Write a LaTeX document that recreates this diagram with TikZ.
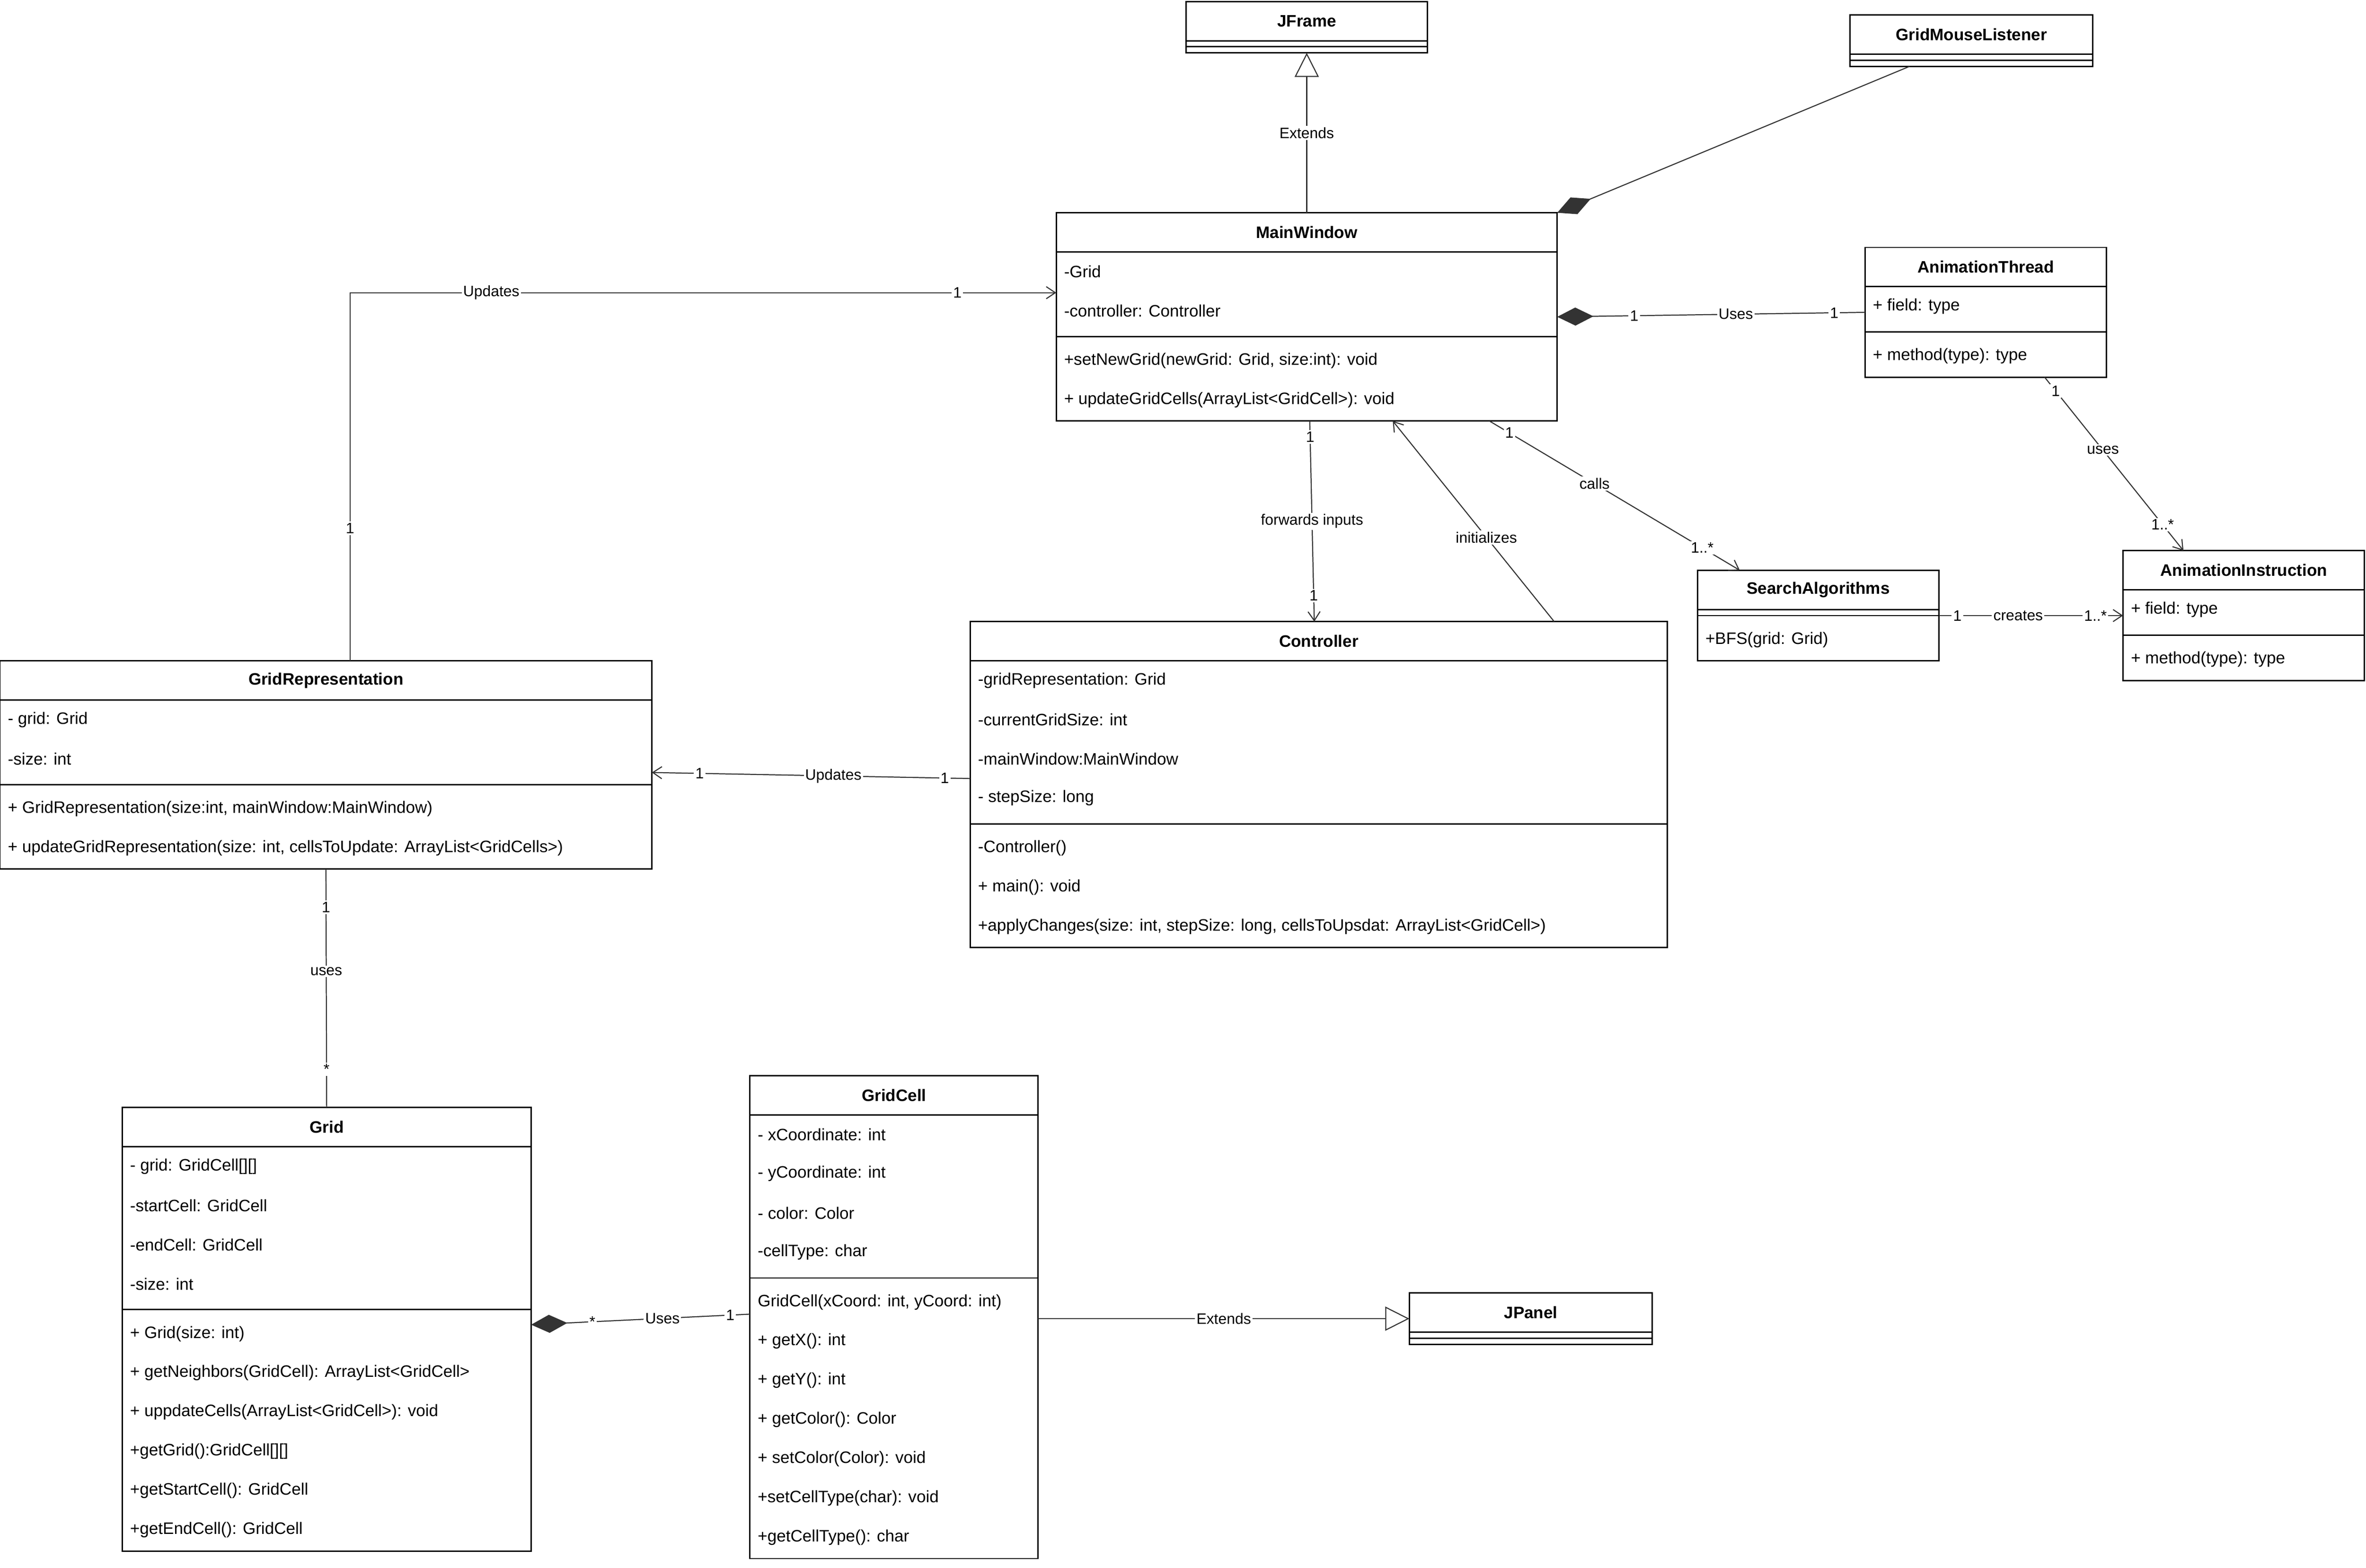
\documentclass[tikz,border=0pt]{standalone}
\usepackage{fontspec}
\setmainfont{Liberation Sans}
\usetikzlibrary{arrows.meta,positioning}

\tikzset{
  classbox/.style={draw, line width=0.9pt, inner sep=0pt, outer sep=0pt},
  row/.style={anchor=west, inner sep=0pt, font=\fontsize{11}{13}\selectfont},
  title/.style={inner sep=0pt, font=\fontsize{11}{13}\selectfont\bfseries},
  lbl/.style={fill=white, inner sep=1pt, font=\fontsize{10}{12}\selectfont},
  conn/.style={draw=black!80, line width=0.7pt},
  openarrow/.style={-{Straight Barb[length=6pt,width=8pt]}},
  extends/.style={-{Triangle[open,length=16pt,width=16pt]}},
  composed/.style={-{Diamond[length=24pt,width=12pt]}},
}

% #1 name, #2 x, #3 top, #4 width, #5 title, #6 no. of attrs, #7 attrs, #8 no. of methods, #9 methods
\newcommand{\umlclass}[9]{%
  \pgfmathsetmacro\ya{#3+26}%
  \pgfmathsetmacro\yb{\ya+#6*26+4}%
  \pgfmathsetmacro\yc{\yb+#8*26+4}%
  \node[classbox, minimum width=#4pt, minimum height={(\yc-#3)*1pt}, anchor=north west] (#1) at (#2,#3) {};
  \node[title] at ({#2+#4/2},{#3+13}) {#5};
  \draw[line width=0.9pt] (#2,\ya) -- ++(#4,0);
  \draw[line width=0.9pt] (#2,\yb) -- ++(#4,0);
  \foreach \t [count=\i] in {#7} \node[row] at ({#2+5},{\ya+13+(\i-1)*26}) {\t};
  \foreach \t [count=\i] in {#9} \node[row] at ({#2+5},{\yb+16+(\i-1)*26}) {\t};
}

\begin{document}
\begin{tikzpicture}[x=1pt,y=-1pt]
\useasboundingbox (0,0) rectangle (1568,1039);

% classes
\umlclass{jframe}{786}{1}{160}{JFrame}{0}{}{0}{}
\umlclass{mouselistener}{1226}{10}{161}{GridMouseListener}{0}{}{0}{}
\umlclass{mainwindow}{700}{141}{332}{MainWindow}{2}{{-Grid},{-controller: Controller}}{2}{{+setNewGrid(newGrid: Grid, size:int): void},{+ updateGridCells(ArrayList<GridCell>): void}}
\umlclass{animthread}{1236}{164}{160}{AnimationThread}{1}{{+ field: type}}{1}{{+ method(type): type}}
\umlclass{search}{1125}{378}{160}{SearchAlgorithms}{0}{}{1}{{+BFS(grid: Grid)}}
\umlclass{animinstr}{1407}{365}{160}{AnimationInstruction}{1}{{+ field: type}}{1}{{+ method(type): type}}
\umlclass{controller}{643}{412}{462}{Controller}{4}{{-gridRepresentation: Grid},{-currentGridSize: int},{-mainWindow:MainWindow},{- stepSize: long}}{3}{{-Controller()},{+ main(): void},{+applyChanges(size: int, stepSize: long, cellsToUpsdat: ArrayList<GridCell>)}}
\umlclass{gridrep}{0}{438}{432}{GridRepresentation}{2}{{- grid: Grid},{-size: int}}{2}{{+ GridRepresentation(size:int, mainWindow:MainWindow)},{+ updateGridRepresentation(size: int, cellsToUpdate: ArrayList<GridCells>)}}
\umlclass{grid}{81}{734}{271}{Grid}{4}{{- grid: GridCell[][]},{-startCell: GridCell},{-endCell: GridCell},{-size: int}}{6}{{+ Grid(size: int)},{+ getNeighbors(GridCell): ArrayList<GridCell>},{+ uppdateCells(ArrayList<GridCell>): void},{+getGrid():GridCell[][]},{+getStartCell(): GridCell},{+getEndCell(): GridCell}}
\umlclass{gridcell}{497}{713}{191}{GridCell}{4}{{- xCoordinate: int},{- yCoordinate: int},{- color: Color},{-cellType: char}}{7}{{GridCell(xCoord: int, yCoord: int)},{+ getX(): int},{+ getY(): int},{+ getColor(): Color},{+ setColor(Color): void},{+setCellType(char): void},{+getCellType(): char}}
\umlclass{jpanel}{934}{857}{161}{JPanel}{0}{}{0}{}

% connectors
\draw[conn, extends] (mainwindow.north) -- node[lbl, pos=0.5] {Extends} (jframe.south);
\draw[conn, composed] ([xshift=-41]mouselistener.south) -- (mainwindow.north east);
\draw[conn, composed] (animthread.west) -- node[lbl, pos=0.42] {Uses}
  node[lbl, pos=0.1] {1} node[lbl, pos=0.75] {1} (mainwindow.east);
\draw[conn, openarrow] ([xshift=16]gridrep.north) |- ([yshift=16]mainwindow.west)
  node[lbl, pos=0.18] {1} node[lbl, pos=0.6] {Updates} node[lbl, pos=0.93] {1};
\draw[conn, openarrow] ([xshift=2]mainwindow.south) -- node[lbl] {forwards inputs}
  node[lbl, pos=0.08] {1} node[lbl, pos=0.87] {1} ([xshift=-3]controller.north);
\draw[conn, openarrow] ([xshift=156]controller.north) -- node[lbl, pos=0.42] {initializes} ([xshift=57]mainwindow.south);
\draw[conn, openarrow] ([xshift=121]mainwindow.south) -- node[lbl, pos=0.42] {calls}
  node[lbl, pos=0.08] {1} node[lbl, pos=0.85] {1..*} ([xshift=-52]search.north);
\draw[conn, openarrow] ([xshift=39]animthread.south) -- node[lbl, pos=0.42] {uses}
  node[lbl, pos=0.08] {1} node[lbl, pos=0.85] {1..*} ([xshift=-40]animinstr.north);
\draw[conn, openarrow] (search.east) -- node[lbl, pos=0.43] {creates}
  node[lbl, pos=0.1] {1} node[lbl, pos=0.85] {1..*} (animinstr.west);
\draw[conn, openarrow] ([yshift=4]controller.west) -- node[lbl, pos=0.43] {Updates}
  node[lbl, pos=0.08] {1} node[lbl, pos=0.85] {1} ([yshift=-5]gridrep.east);
\draw[conn] (gridrep.south) -- node[lbl, pos=0.43] {uses}
  node[lbl, pos=0.16] {1} node[lbl, pos=0.84] {*} (grid.north);
\draw[conn, composed] ([yshift=2]gridcell.west) -- node[lbl, pos=0.4] {Uses}
  node[lbl, pos=0.09] {1} node[lbl, pos=0.72] {*} ([yshift=3]grid.east);
\draw[conn, extends] ([yshift=-1]gridcell.east) -- node[lbl, pos=0.5] {Extends} (jpanel.west);
\end{tikzpicture}
\end{document}
